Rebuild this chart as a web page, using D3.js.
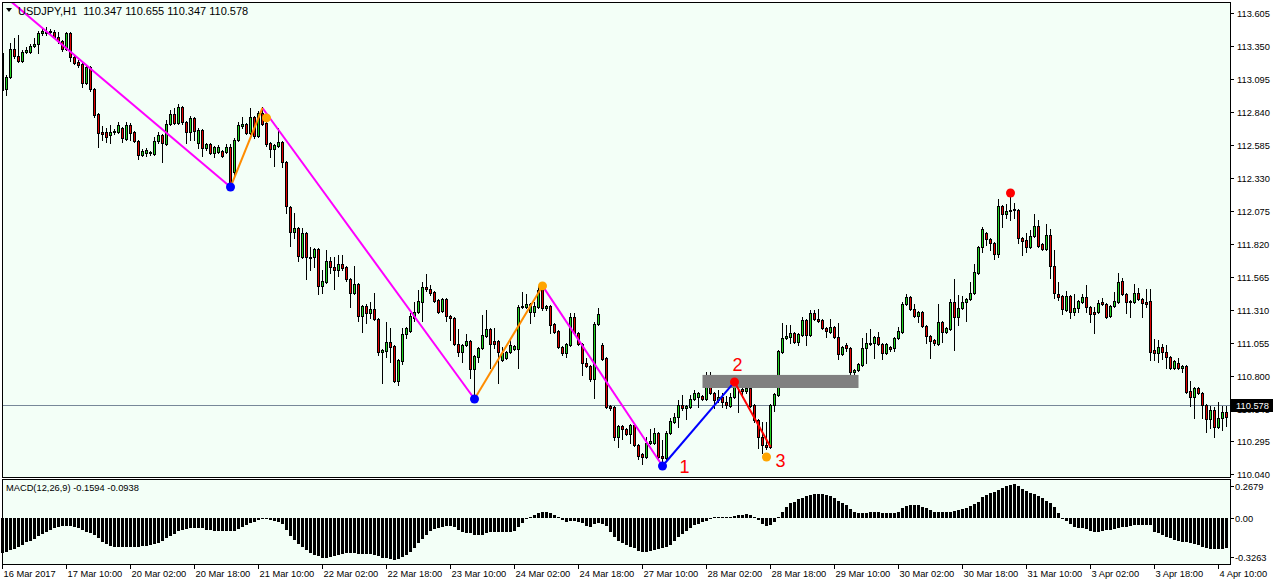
<!DOCTYPE html>
<html><head><meta charset="utf-8">
<script src="https://cdn.jsdelivr.net/npm/d3@7"></script>
<style>
html,body{margin:0;padding:0;background:#fff;}
svg{display:block;font-family:"Liberation Sans",Arial,sans-serif;}
</style></head><body>
<svg id="c" width="1276" height="585"></svg>
<script>
// ---- DATA (USDJPY H1, 307 bars) ----
const opens=[113.296,113.017,113.111,113.326,113.273,113.234,113.304,113.304,113.350,113.365,113.451,113.451,113.459,113.459,113.420,113.388,113.326,113.451,113.265,113.226,113.211,113.064,113.188,113.017,112.824,112.686,112.686,112.663,112.686,112.686,112.716,112.632,112.740,112.686,112.616,112.507,112.523,112.523,112.515,112.616,112.663,112.593,112.747,112.824,112.755,112.879,112.763,112.686,112.794,112.601,112.701,112.562,112.593,112.523,112.531,112.538,112.531,112.570,112.377,112.624,112.732,112.747,112.678,112.801,112.655,112.832,112.755,112.601,112.554,112.577,112.609,112.454,112.106,111.913,111.944,111.719,111.905,111.719,111.719,111.781,111.496,111.526,111.688,111.641,111.619,111.665,111.641,111.549,111.441,111.511,111.264,111.341,111.287,111.318,111.240,110.986,110.993,111.063,111.032,110.761,110.915,111.125,111.148,111.248,111.295,111.372,111.488,111.472,111.449,111.387,111.302,111.395,111.264,111.248,111.047,110.986,111.040,111.071,110.854,110.946,111.016,111.109,111.163,111.071,111.071,110.923,110.939,110.986,111.008,111.008,111.333,111.333,111.295,111.295,111.333,111.464,111.326,111.341,111.202,111.148,111.024,110.978,111.040,111.256,111.132,111.047,110.900,110.877,110.776,111.202,111.040,110.939,110.568,110.560,110.328,110.413,110.390,110.352,110.421,110.267,110.197,110.174,110.282,110.282,110.359,110.182,110.166,110.359,110.444,110.483,110.576,110.553,110.560,110.622,110.637,110.645,110.622,110.769,110.669,110.614,110.637,110.599,110.568,110.637,110.746,110.700,110.684,110.707,110.576,110.460,110.328,110.267,110.251,110.576,110.653,110.986,111.093,111.101,111.132,111.063,111.117,111.233,111.117,111.287,111.240,111.233,111.171,111.140,111.179,111.101,110.970,111.040,111.016,110.830,110.846,110.885,111.016,111.047,111.055,111.101,111.047,110.978,111.024,111.016,111.093,111.140,111.356,111.410,111.318,111.264,111.295,111.186,111.109,111.078,111.047,111.218,111.140,111.163,111.372,111.256,111.326,111.372,111.395,111.441,111.596,111.797,111.905,111.859,111.828,111.743,112.114,112.052,112.075,112.083,112.083,111.866,111.851,111.797,111.882,111.959,111.820,111.781,111.889,111.650,111.433,111.418,111.310,111.418,111.295,111.326,111.372,111.410,111.333,111.295,111.295,111.372,111.356,111.264,111.341,111.372,111.534,111.433,111.380,111.372,111.441,111.395,111.372,111.380,111.001,110.978,111.024,110.986,110.946,110.861,110.900,110.861,110.877,110.684,110.637,110.707,110.669,110.576,110.467,110.537,110.406,110.475,110.522];
const highs=[113.311,113.126,113.373,113.412,113.435,113.319,113.342,113.365,113.412,113.466,113.489,113.497,113.481,113.474,113.459,113.396,113.459,113.459,113.280,113.242,113.219,113.203,113.196,113.025,112.832,112.732,112.716,112.740,112.709,112.763,112.724,112.763,112.755,112.693,112.624,112.554,112.562,112.538,112.647,112.686,112.670,112.778,112.855,112.871,112.902,112.886,112.770,112.809,112.801,112.716,112.709,112.601,112.601,112.577,112.585,112.546,112.593,112.593,112.640,112.763,112.801,112.755,112.871,112.809,112.847,112.879,112.763,112.609,112.593,112.716,112.616,112.461,112.114,112.060,111.951,111.944,111.913,111.797,111.789,111.789,111.619,111.773,111.719,111.719,111.735,111.735,111.650,111.557,111.650,111.519,111.348,111.356,111.372,111.441,111.248,111.008,111.218,111.171,111.040,110.931,111.171,111.179,111.287,111.372,111.464,111.526,111.588,111.503,111.457,111.395,111.403,111.403,111.271,111.256,111.163,111.047,111.125,111.078,110.962,111.024,111.271,111.310,111.171,111.171,111.078,111.024,110.993,111.078,111.040,111.348,111.449,111.433,111.364,111.372,111.496,111.488,111.348,111.348,111.210,111.155,111.032,111.055,111.287,111.287,111.140,111.055,110.939,110.885,111.218,111.326,111.055,110.946,110.576,110.568,110.421,110.421,110.398,110.429,110.429,110.274,110.205,110.328,110.390,110.398,110.367,110.305,110.374,110.475,110.514,110.614,110.653,110.576,110.653,110.692,110.676,110.653,110.831,110.831,110.676,110.692,110.669,110.645,110.669,110.769,110.754,110.730,110.730,110.715,110.584,110.467,110.444,110.444,110.584,110.669,111.001,111.210,111.194,111.194,111.140,111.132,111.256,111.240,111.310,111.310,111.318,111.240,111.179,111.240,111.186,111.210,111.032,111.055,111.024,110.854,110.900,111.093,111.132,111.163,111.109,111.140,111.055,111.055,111.032,111.101,111.179,111.372,111.433,111.418,111.356,111.302,111.302,111.194,111.117,111.086,111.356,111.225,111.179,111.395,111.549,111.426,111.418,111.403,111.526,111.665,111.805,111.951,111.913,111.866,111.836,112.168,112.122,112.129,112.183,112.137,112.091,111.874,111.905,111.928,112.052,112.005,111.828,111.974,111.936,111.773,111.526,111.426,111.457,111.426,111.433,111.387,111.433,111.503,111.341,111.333,111.387,111.403,111.364,111.348,111.449,111.596,111.557,111.441,111.387,111.511,111.480,111.403,111.472,111.472,111.086,111.078,111.047,111.040,110.954,110.923,110.939,110.885,110.885,110.761,110.715,110.715,110.676,110.584,110.568,110.560,110.599,110.568,110.568];
const lows=[112.995,112.971,113.103,113.257,113.226,113.226,113.296,113.296,113.342,113.296,113.435,113.435,113.451,113.412,113.373,113.311,113.319,113.234,113.211,113.188,113.033,113.056,113.002,112.801,112.570,112.624,112.609,112.601,112.670,112.678,112.609,112.624,112.624,112.609,112.476,112.500,112.500,112.507,112.507,112.601,112.454,112.585,112.740,112.747,112.747,112.747,112.601,112.624,112.624,112.562,112.500,112.546,112.515,112.492,112.523,112.492,112.523,112.260,112.353,112.616,112.716,112.670,112.670,112.640,112.647,112.740,112.577,112.492,112.423,112.570,112.415,112.060,111.805,111.866,111.688,111.711,111.549,111.619,111.641,111.433,111.441,111.519,111.596,111.472,111.572,111.619,111.534,111.333,111.433,111.225,111.140,111.210,111.248,111.233,110.962,110.746,110.946,110.908,110.754,110.730,110.892,111.094,111.140,111.225,111.287,111.225,111.457,111.426,111.372,111.287,111.295,111.225,111.078,111.040,110.954,110.908,111.032,110.784,110.630,110.908,111.008,111.102,110.861,111.016,110.746,110.915,110.931,110.978,111.001,110.861,111.326,111.326,111.210,111.264,111.326,111.310,111.310,111.132,111.132,111.016,110.962,110.946,111.032,111.125,111.040,110.808,110.869,110.761,110.630,111.194,110.923,110.553,110.537,110.305,110.251,110.313,110.344,110.282,110.259,110.159,110.120,110.166,110.274,110.274,110.166,110.104,110.159,110.352,110.437,110.406,110.537,110.467,110.553,110.614,110.560,110.614,110.614,110.661,110.553,110.599,110.560,110.553,110.560,110.630,110.522,110.637,110.669,110.560,110.444,110.243,110.205,110.236,110.243,110.530,110.645,110.978,111.086,111.055,111.055,111.040,111.109,111.040,111.109,111.233,111.218,111.163,111.101,111.132,111.093,110.931,110.962,110.993,110.715,110.754,110.838,110.877,110.900,111.040,110.939,111.040,110.931,110.970,110.993,110.993,111.086,111.132,111.348,111.310,111.256,111.218,111.179,111.055,110.939,111.040,111.040,111.063,111.132,111.155,111.001,111.194,111.318,111.225,111.387,111.433,111.588,111.758,111.812,111.773,111.704,111.719,111.951,112.021,112.005,112.021,111.828,111.735,111.758,111.789,111.874,111.797,111.773,111.773,111.557,111.402,111.387,111.279,111.302,111.248,111.271,111.295,111.364,111.295,111.218,111.132,111.287,111.348,111.248,111.256,111.333,111.364,111.426,111.287,111.256,111.364,111.387,111.256,111.333,110.923,110.923,110.908,110.931,110.861,110.854,110.854,110.854,110.830,110.669,110.568,110.475,110.661,110.475,110.367,110.398,110.328,110.398,110.382,110.413];
const closes=[113.010,113.111,113.326,113.273,113.234,113.304,113.319,113.350,113.365,113.451,113.466,113.459,113.466,113.420,113.388,113.326,113.451,113.265,113.219,113.203,113.064,113.188,113.017,112.816,112.678,112.670,112.647,112.686,112.693,112.740,112.640,112.740,112.678,112.616,112.507,112.538,112.546,112.531,112.616,112.663,112.601,112.747,112.824,112.755,112.879,112.763,112.686,112.794,112.693,112.701,112.562,112.593,112.523,112.570,112.570,112.500,112.570,112.291,112.624,112.740,112.747,112.678,112.801,112.655,112.832,112.747,112.593,112.554,112.585,112.609,112.454,112.114,111.913,111.944,111.727,111.905,111.719,111.711,111.781,111.496,111.534,111.688,111.641,111.619,111.665,111.634,111.549,111.441,111.511,111.264,111.341,111.287,111.318,111.240,110.986,111.001,111.063,111.024,110.761,110.923,111.125,111.171,111.264,111.295,111.380,111.488,111.472,111.441,111.380,111.295,111.395,111.264,111.248,111.047,110.986,111.040,111.071,110.854,110.954,111.016,111.117,111.163,111.047,111.047,110.986,110.978,110.986,111.040,111.032,111.333,111.341,111.356,111.356,111.341,111.464,111.326,111.341,111.194,111.140,111.024,110.978,111.047,111.256,111.132,111.047,110.900,110.877,110.776,111.202,111.279,110.931,110.560,110.553,110.328,110.413,110.390,110.352,110.421,110.267,110.182,110.174,110.282,110.298,110.359,110.174,110.166,110.359,110.452,110.483,110.576,110.553,110.568,110.622,110.669,110.669,110.622,110.769,110.669,110.614,110.637,110.599,110.576,110.637,110.730,110.730,110.684,110.707,110.568,110.460,110.328,110.267,110.251,110.576,110.661,110.993,111.093,111.109,111.132,111.063,111.124,111.233,111.117,111.287,111.240,111.225,111.171,111.148,111.179,111.101,110.970,111.024,111.016,110.830,110.846,110.892,111.016,111.055,111.055,111.101,111.047,110.978,111.047,111.008,111.093,111.148,111.356,111.410,111.318,111.264,111.295,111.186,111.109,111.071,111.055,111.218,111.140,111.171,111.372,111.256,111.326,111.372,111.395,111.441,111.603,111.797,111.936,111.859,111.828,111.743,112.114,112.052,112.075,112.083,112.091,111.866,111.843,111.797,111.882,111.959,111.805,111.781,111.889,111.650,111.441,111.410,111.318,111.418,111.295,111.326,111.380,111.410,111.333,111.279,111.279,111.364,111.356,111.256,111.341,111.380,111.526,111.433,111.372,111.372,111.441,111.395,111.364,111.356,110.986,110.978,111.024,110.986,110.946,110.861,110.915,110.861,110.877,110.676,110.637,110.707,110.669,110.576,110.467,110.537,110.406,110.475,110.522,110.483];
const macd=[-0.272,-0.267,-0.252,-0.239,-0.226,-0.208,-0.189,-0.174,-0.161,-0.140,-0.122,-0.106,-0.091,-0.080,-0.070,-0.062,-0.060,-0.060,-0.067,-0.080,-0.093,-0.106,-0.117,-0.132,-0.158,-0.184,-0.205,-0.215,-0.221,-0.226,-0.228,-0.226,-0.221,-0.221,-0.221,-0.215,-0.213,-0.208,-0.200,-0.192,-0.176,-0.158,-0.140,-0.122,-0.101,-0.088,-0.083,-0.080,-0.078,-0.078,-0.080,-0.088,-0.093,-0.096,-0.096,-0.096,-0.099,-0.101,-0.101,-0.083,-0.065,-0.049,-0.036,-0.029,-0.016,-0.005,-0.003,-0.010,-0.021,-0.029,-0.047,-0.091,-0.138,-0.171,-0.200,-0.228,-0.252,-0.272,-0.285,-0.298,-0.311,-0.309,-0.304,-0.298,-0.288,-0.280,-0.272,-0.272,-0.272,-0.278,-0.280,-0.280,-0.280,-0.285,-0.298,-0.309,-0.314,-0.319,-0.324,-0.319,-0.306,-0.285,-0.262,-0.231,-0.195,-0.161,-0.127,-0.101,-0.086,-0.073,-0.065,-0.062,-0.062,-0.070,-0.091,-0.106,-0.112,-0.119,-0.130,-0.130,-0.127,-0.119,-0.109,-0.104,-0.104,-0.104,-0.104,-0.104,-0.096,-0.065,-0.034,-0.008,0.008,0.029,0.044,0.052,0.049,0.042,0.023,0.003,-0.016,-0.026,-0.021,-0.018,-0.026,-0.036,-0.057,-0.067,-0.047,-0.039,-0.044,-0.060,-0.104,-0.150,-0.176,-0.195,-0.210,-0.221,-0.236,-0.259,-0.267,-0.262,-0.254,-0.246,-0.241,-0.236,-0.226,-0.210,-0.179,-0.148,-0.122,-0.096,-0.073,-0.054,-0.042,-0.029,-0.018,-0.003,0.005,0.008,0.008,0.008,0.008,0.018,0.026,0.029,0.031,0.026,0.013,-0.016,-0.042,-0.060,-0.054,-0.031,0.005,0.049,0.091,0.117,0.130,0.148,0.161,0.174,0.182,0.189,0.189,0.189,0.184,0.176,0.161,0.138,0.119,0.101,0.075,0.049,0.039,0.039,0.042,0.047,0.047,0.047,0.044,0.039,0.039,0.044,0.052,0.078,0.096,0.106,0.106,0.101,0.091,0.078,0.062,0.049,0.047,0.047,0.047,0.052,0.060,0.065,0.070,0.080,0.093,0.109,0.130,0.163,0.184,0.197,0.205,0.218,0.236,0.249,0.259,0.265,0.252,0.228,0.213,0.195,0.187,0.176,0.156,0.135,0.117,0.091,0.039,-0.003,-0.018,-0.044,-0.065,-0.075,-0.080,-0.086,-0.099,-0.104,-0.104,-0.099,-0.093,-0.088,-0.083,-0.078,-0.070,-0.065,-0.060,-0.052,-0.052,-0.049,-0.049,-0.052,-0.104,-0.117,-0.130,-0.143,-0.156,-0.169,-0.174,-0.182,-0.189,-0.195,-0.200,-0.208,-0.221,-0.231,-0.239,-0.241,-0.241,-0.239,-0.236];
const priceTicks=[113.605,113.350,113.095,112.840,112.585,112.330,112.075,111.820,111.565,111.310,111.055,110.800,110.545,110.295,110.040];
const macdTicks=[0.2679,0.00,-0.3263];
const macdTickText=["0.2679","0.00","-0.3263"];
const timeLabels=["16 Mar 2017","17 Mar 10:00","20 Mar 02:00","20 Mar 18:00","21 Mar 10:00","22 Mar 02:00","22 Mar 18:00","23 Mar 10:00","24 Mar 02:00","24 Mar 18:00","27 Mar 10:00","28 Mar 02:00","28 Mar 18:00","29 Mar 10:00","30 Mar 02:00","30 Mar 18:00","31 Mar 10:00","3 Apr 02:00","3 Apr 18:00","4 Apr 10:00"];
const timeLabelBars=[0,16,32,48,64,80,96,112,128,144,160,176,192,208,224,240,256,272,288,304];
const currentPrice=110.578;
// zigzag / pattern annotation (bar index, price)
const magentaSegs=[[[-5,113.88],[57,112.260]],[[65,112.871],[118,110.622]],[[135,111.496],[165,110.104]]];
const orangeSegs=[[[57,112.260],[65,112.871]],[[118,110.622],[135,111.496]]];
const blueSegs=[[[165,110.104],[183,110.754]]];
const redSegs=[[[183,110.754],[192,110.251]]];
const blueDots=[[57,112.260],[118,110.622],[165,110.104]];
const orangeDots=[[66,112.794],[135,111.496],[191,110.174]];
const redDots=[[183,110.754],[252,112.214]];
const zoneBars=[175,214], zonePrices=[110.808,110.707];
const pointLabels=[["1",165,110.104,17,7],["2",183,110.754,-2,-11],["3",191,110.174,9,10]];
const header="USDJPY,H1  110.347 110.655 110.347 110.578";
const macdHeader="MACD(12,26,9) -0.1594 -0.0938";

// ---- DRAW ----
const svg=d3.select("#c");
const L=2.5,R=1230.5,T=2.5,MB=477.5,MT=479.5,MBB=564.5;
const FONT="9.3px";
const x=d3.scaleLinear().domain([0,306]).range([2.5,1226.5]);
const y=d3.scaleLinear().domain([110.040,113.605]).range([474.3,13]);
const ym=d3.scaleLinear().domain([-0.3263,0.2679]).range([560,484]);
const snap=v=>Math.round(v)+0.5;

svg.append("rect").attr("x",L).attr("y",T).attr("width",R-L).attr("height",MB-T).attr("fill","#f3fff7").attr("stroke","#000");
svg.append("rect").attr("x",L).attr("y",MT).attr("width",R-L).attr("height",MBB-MT).attr("fill","#f3fff7").attr("stroke","#000");
const defs=svg.append("defs");
defs.append("clipPath").attr("id","mclip").append("rect").attr("x",3).attr("y",3).attr("width",1227).attr("height",474);
const main=svg.append("g").attr("clip-path","url(#mclip)");

// current price line
main.append("line").attr("x1",3).attr("x2",1230).attr("y1",snap(y(currentPrice))).attr("y2",snap(y(currentPrice))).attr("stroke","#778899");

// candles
const idx=d3.range(closes.length);
const cg=main.append("g").attr("shape-rendering","crispEdges");
cg.selectAll("line.w").data(idx).join("line").attr("class","w")
 .attr("x1",i=>x(i)).attr("x2",i=>x(i))
 .attr("y1",i=>Math.round(y(highs[i]))).attr("y2",i=>Math.round(y(lows[i]))+1)
 .attr("stroke","#000");
cg.selectAll("rect.b").data(idx).join("rect").attr("class","b")
 .attr("x",i=>x(i)-1).attr("width",2)
 .attr("y",i=>snap(Math.min(y(opens[i]),y(closes[i]))))
 .attr("height",i=>Math.max(0,Math.round(Math.max(y(opens[i]),y(closes[i])))-Math.round(Math.min(y(opens[i]),y(closes[i])))))
 .attr("fill",i=>closes[i]>=opens[i]?"#1fd21f":"#e00000")
 .attr("stroke","#000");

// zone rectangle
main.append("rect").attr("x",x(zoneBars[0])).attr("width",x(zoneBars[1])-x(zoneBars[0]))
 .attr("y",y(zonePrices[0])).attr("height",y(zonePrices[1])-y(zonePrices[0])).attr("fill","#808080");

const line=d3.line().x(d=>x(d[0])).y(d=>y(d[1]));
function segs(data,color){main.append("g").selectAll("path").data(data).join("path").attr("d",line).attr("fill","none").attr("stroke",color).attr("stroke-width",2);}
segs(magentaSegs,"#ff00ff");
segs(orangeSegs,"#ff8c00");
segs(blueSegs,"#0000ff");
segs(redSegs,"#ff0000");
function dots(data,color){main.append("g").selectAll("circle").data(data).join("circle").attr("cx",d=>x(d[0])).attr("cy",d=>y(d[1])).attr("r",4.5).attr("fill",color);}
dots(blueDots,"#0000ff");
dots(orangeDots,"#ffa500");
dots(redDots,"#ff0000");
main.append("g").selectAll("text").data(pointLabels).join("text")
 .attr("x",d=>x(d[1])+d[3]).attr("y",d=>y(d[2])+d[4]).attr("font-size","18px").attr("fill","#ff0000").text(d=>d[0]);

// header
svg.append("path").attr("d","M6,8 L12,8 L9,12 Z").attr("fill","#000");
svg.append("text").attr("x",18).attr("y",15).attr("font-size","11px").attr("fill","#000").style("white-space","pre").text(header);

// price axis
const ax=svg.append("g").attr("shape-rendering","crispEdges");
ax.selectAll("line").data(priceTicks).join("line").attr("x1",1231).attr("x2",1234)
 .attr("y1",d=>snap(y(d))).attr("y2",d=>snap(y(d))).attr("stroke","#000");
svg.append("g").selectAll("text").data(priceTicks).join("text").attr("x",1237).attr("y",d=>Math.round(y(d))+4)
 .attr("font-size",FONT).attr("fill","#000").text(d=>d.toFixed(3));
const cy=Math.round(y(currentPrice));
svg.append("rect").attr("x",1231).attr("y",cy-6).attr("width",42).attr("height",13).attr("fill","#000");
svg.append("text").attr("x",1236).attr("y",cy+4).attr("font-size",FONT).attr("fill","#fff").text(currentPrice.toFixed(3));

// MACD
const mg=svg.append("g").attr("shape-rendering","crispEdges");
const y0=Math.round(ym(0));
mg.selectAll("rect").data(idx).join("rect")
 .attr("x",i=>x(i)-1.5).attr("width",3)
 .attr("y",i=>macd[i]>=0?Math.min(y0-1,Math.round(ym(macd[i]))):y0)
 .attr("height",i=>Math.max(1,Math.abs(Math.round(ym(macd[i]))-y0)))
 .attr("fill","#000");
svg.append("text").attr("x",6).attr("y",491).attr("font-size",FONT).attr("fill","#000").text(macdHeader);
const mOff=[2,0,-3];
ax.selectAll("line.m").data(macdTicks).join("line").attr("class","m").attr("x1",1231).attr("x2",1234)
 .attr("y1",(d,i)=>snap(ym(d)+mOff[i])).attr("y2",(d,i)=>snap(ym(d)+mOff[i])).attr("stroke","#000");
svg.append("g").selectAll("text").data(macdTicks).join("text").attr("x",1235).attr("y",(d,i)=>Math.round(ym(d)+mOff[i])+4)
 .attr("font-size",FONT).attr("fill","#000").text((d,i)=>macdTickText[i]);

// time axis
ax.selectAll("line.t").data(timeLabelBars).join("line").attr("class","t")
 .attr("x1",d=>x(d)).attr("x2",d=>x(d)).attr("y1",565).attr("y2",569).attr("stroke","#000");
svg.append("g").selectAll("text").data(timeLabelBars).join("text")
 .attr("x",d=>x(d)+1).attr("y",577).attr("font-size",FONT).attr("fill","#000").text((d,i)=>timeLabels[i]);
</script>
</body></html>
